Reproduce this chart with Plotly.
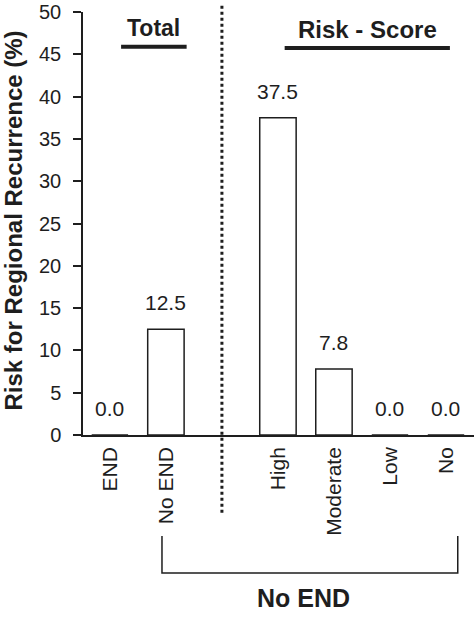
import plotly.graph_objects as go

# %%
groups = ["END", "No END", "High", "Moderate", "Low", "No"]
risk_pct = [0.0, 12.5, 37.5, 7.8, 0.0, 0.0]
spacer = " "
category_order = ["END", "No END", spacer, "High", "Moderate", "Low", "No"]

FONT = "Liberation Sans, Arial, sans-serif"
INK = "#1e1e1e"

fig = go.Figure()
fig.add_trace(go.Bar(
    x=groups, y=risk_pct, width=0.65,
    marker=dict(color="white", line=dict(color=INK, width=1.5)),
    showlegend=False, hoverinfo="skip",
))

# value labels above each bar
for g, v in zip(groups, risk_pct):
    fig.add_annotation(x=g, y=v, text=f"{v:.1f}", showarrow=False,
                       yanchor="bottom", yshift=13, font=dict(size=21, color=INK))

# dotted divider between Total and Risk-Score groups
fig.add_shape(type="line", xref="x", yref="paper", x0=2, x1=2, y0=-0.184, y1=1.017,
              line=dict(color=INK, width=3, dash="dot"))

# group headers with underline
fig.add_annotation(x=0.77, xref="x", y=48.1, yref="y", text="<b>Total</b>", showarrow=False,
                   xanchor="center", yanchor="middle", font=dict(size=23, color=INK))
fig.add_shape(type="line", xref="x", yref="y", x0=0.2, x1=1.37, y0=45.9, y1=45.9,
              line=dict(color=INK, width=4))
fig.add_annotation(x=4.59, xref="x", y=47.9, yref="y", text="<b>Risk - Score</b>", showarrow=False,
                   xanchor="center", yanchor="middle", font=dict(size=24, color=INK))
fig.add_shape(type="line", xref="x", yref="y", x0=3.12, x1=6.07, y0=45.75, y1=45.75,
              line=dict(color=INK, width=4))

# bracket for the No END subgroup
fig.add_shape(type="path", xref="x", yref="paper",
              path="M 0.93,-0.239 L 0.93,-0.326 L 6.21,-0.326 L 6.21,-0.239",
              line=dict(color=INK, width=1.5))
fig.add_annotation(x=3.45, xref="x", y=-0.385, yref="paper", text="<b>No END</b>", showarrow=False,
                   xanchor="center", yanchor="middle", font=dict(size=25, color=INK))

# y axis title
fig.add_annotation(x=-0.178, xref="paper", y=0.508, yref="paper", textangle=-90,
                   xanchor="center", yanchor="middle",
                   text="<b>Risk for Regional Recurrence (%)</b>", showarrow=False,
                   font=dict(size=24, color=INK))

fig.update_xaxes(
    type="category", categoryorder="array", categoryarray=category_order,
    range=[-0.48, 6.5], showline=True, linecolor=INK, linewidth=1.5,
    tickangle=-90, ticks="", ticklabelstandoff=2,
    tickfont=dict(size=21, color=INK, family=FONT), showgrid=False,
)
fig.update_yaxes(
    range=[0, 50], dtick=5, showline=True, linecolor=INK, linewidth=1.5,
    ticks="outside", ticklen=8, tickwidth=1.5, tickcolor=INK, ticklabelstandoff=8,
    tickfont=dict(size=20, color=INK, family=FONT), showgrid=False, zeroline=False,
)
fig.update_layout(
    width=474, height=617,
    margin=dict(l=83, r=0, t=12, b=182),
    plot_bgcolor="white", paper_bgcolor="white",
    font=dict(family=FONT, color=INK),
)

fig.write_html("out.html", config={"displayModeBar": False},
               post_script="document.body.style.margin='0';document.body.style.overflow='hidden';")
